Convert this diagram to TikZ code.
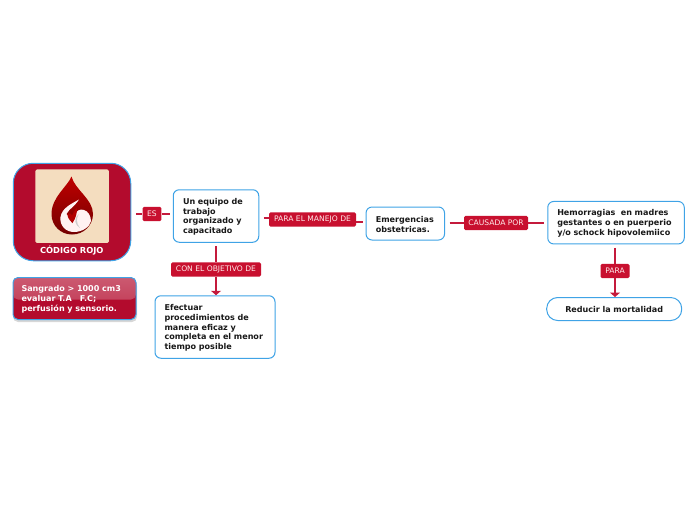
\documentclass[tikz,border=0pt]{standalone}
\usepackage{fontspec}
\setmainfont{DejaVu Sans}
\usetikzlibrary{arrows.meta,calc}
\definecolor{crim}{HTML}{B30B2D}
\definecolor{lab}{HTML}{C8102F}
\definecolor{conn}{HTML}{C41A3C}
\definecolor{bblue}{HTML}{3FA3E6}
\definecolor{cream}{HTML}{F4DDBF}
\newcommand{\firstln}{\rule{0pt}{7.8pt}}
\tikzset{
  topicbox/.style={draw=bblue,line width=1pt,fill=white,rounded corners=6pt,inner xsep=9.5pt,inner ysep=0pt,
    font=\fontsize{8.05}{9.8}\selectfont\bfseries,align=left,text=black!90},
  linklabel/.style={fill=lab,rounded corners=1.5pt,text=white!92!red,inner sep=0pt,minimum height=14.4pt,
    font=\fontsize{7.6}{9}\selectfont},
  link/.style={draw=conn,line width=1.6pt},
  linkarrow/.style={link,-{Triangle[length=4.5pt,width=10pt]}},
}
\begin{document}
\begin{tikzpicture}[x=1pt,y=-1pt]
\useasboundingbox (0,0) rectangle (696,520);
% main topic
\node[draw=bblue,line width=1pt,fill=crim,rounded corners=20pt,minimum width=117.5pt,minimum height=97.5pt,inner sep=0pt] (codigo) at (72,212) {};
\node[fill=cream,rounded corners=1.5pt,minimum width=73.5pt,minimum height=73.5pt,inner sep=0pt] (pic) at (72.2,206.2) {};
\shade[top color=red!75!black,bottom color=red!45!black]
  (71.5,176.5) .. controls (68,186) and (51.5,197) .. (51.5,214)
  .. controls (51.5,226) and (61,234.5) .. (72,234.5)
  .. controls (84,234.5) and (93,225) .. (93,214)
  .. controls (93,199) and (75,190) .. (71.5,176.5) -- cycle;
% mother and child
\fill[white!95!red]
  (79,199.5) .. controls (71,204) and (62,208) .. (60.5,217)
  .. controls (59.5,226) and (66,232) .. (74,232)
  .. controls (82,232) and (90,227) .. (91,221)
  .. controls (91,216) and (88,211) .. (84,210)
  .. controls (80,208.5) and (76,211) .. (76,214)
  .. controls (73,220) and (69,218) .. (66.5,214)
  .. controls (69,209) and (75,206) .. (79,199.5) -- cycle;
\fill[red!70!black]
  (68,213.5) .. controls (70,212.5) and (71.5,214) .. (72,215.5)
  .. controls (73,213) and (75,209.5) .. (77,208)
  .. controls (77,213) and (76,218) .. (72.5,223)
  .. controls (69,220) and (66.5,216) .. (68,213.5) -- cycle;
\fill[gray!40] (79,214) .. controls (76,218) and (76,223) .. (80,228)
  .. controls (75,225) and (73,219) .. (79,214) -- cycle;
\node[text=white,font=\fontsize{8.3}{9}\selectfont\bfseries,inner sep=0pt] (codigolabel) at (71.8,250) {CÓDIGO ROJO};
% note
\fill[black!45,opacity=.35,rounded corners=5pt] (13,281) rectangle (137,322);
\node[draw=bblue,line width=1pt,fill=crim,rounded corners=5pt,minimum width=123pt,minimum height=42pt,inner xsep=8.5pt,inner ysep=0pt,
  text width=106pt,align=left,text=white,font=\fontsize{8.05}{9.8}\selectfont\bfseries,
  path picture={\fill[top color=crim!68!white,bottom color=crim!85!white]
    (path picture bounding box.north west) rectangle ($(path picture bounding box.east)+(0,1)$);}] (note) at (74.5,298.5)
  {\firstln Sangrado > 1000 cm3\\evaluar T.A\ \ \ F.C;\\perfusión y sensorio.};
% topics
\node[topicbox,minimum width=85.5pt,minimum height=52.5pt,text width=66pt] (equipo) at (216,216)
  {\firstln Un equipo de\\trabajo\\organizado y\\capacitado};
\node[topicbox,minimum width=120pt,minimum height=62.5pt,text width=101pt] (efectuar) at (215,327)
  {\firstln Efectuar\\procedimientos de\\manera eficaz y\\completa en el menor\\tiempo posible};
\node[topicbox,minimum width=78.5pt,minimum height=33pt,text width=59pt] (emerg) at (405.3,223.5)
  {\firstln Emergencias\\obstetricas.};
\node[topicbox,minimum width=136.5pt,minimum height=42.5pt,text width=117.5pt] (hem) at (616,222.7)
  {\firstln Hemorragias\ \ en madres\\gestantes o en puerperio\\y/o schock hipovolemiico};
\node[topicbox,rounded corners=11pt,minimum width=135pt,minimum height=23pt,text width=116pt,align=center] (reducir) at (614.2,309)
  {Reducir la mortalidad};
% link labels
\node[linklabel,minimum width=18.8pt] (es) at (152,214) {ES};
\node[linklabel,minimum width=87pt] (manejo) at (312.5,219.5) {PARA EL MANEJO DE};
\node[linklabel,minimum width=90pt] (objetivo) at (216,269.5) {CON EL OBJETIVO DE};
\node[linklabel,minimum width=64pt] (causada) at (496,223) {CAUSADA POR};
\node[linklabel,minimum width=29pt] (para) at (615,271) {PARA};
% connectors
\draw[link,shorten <=4.5pt] (codigo.east |- es) -- (es.west);
\draw[link,shorten >=3pt] (es.east) -- (equipo.west |- es);
\draw[link,shorten <=4.5pt] (equipo.east |- 0,218) -- (manejo.west |- 0,218);
\draw[link,shorten >=3pt] (manejo.east |- 0,222) -- (emerg.west |- 0,222);
\draw[link,shorten <=4.5pt] (emerg.east |- causada) -- (causada.west);
\draw[link,shorten >=3.5pt] (causada.east) -- (hem.west |- causada);
\draw[link,shorten <=3.5pt] (equipo.south -| objetivo) -- (objetivo.north);
\draw[linkarrow] (objetivo.south) -- (efectuar.north -| objetivo);
\draw[link,shorten <=3.5pt] (hem.south -| para) -- (para.north);
\draw[linkarrow] (para.south) -- (reducir.north -| para);
\end{tikzpicture}
\end{document}
